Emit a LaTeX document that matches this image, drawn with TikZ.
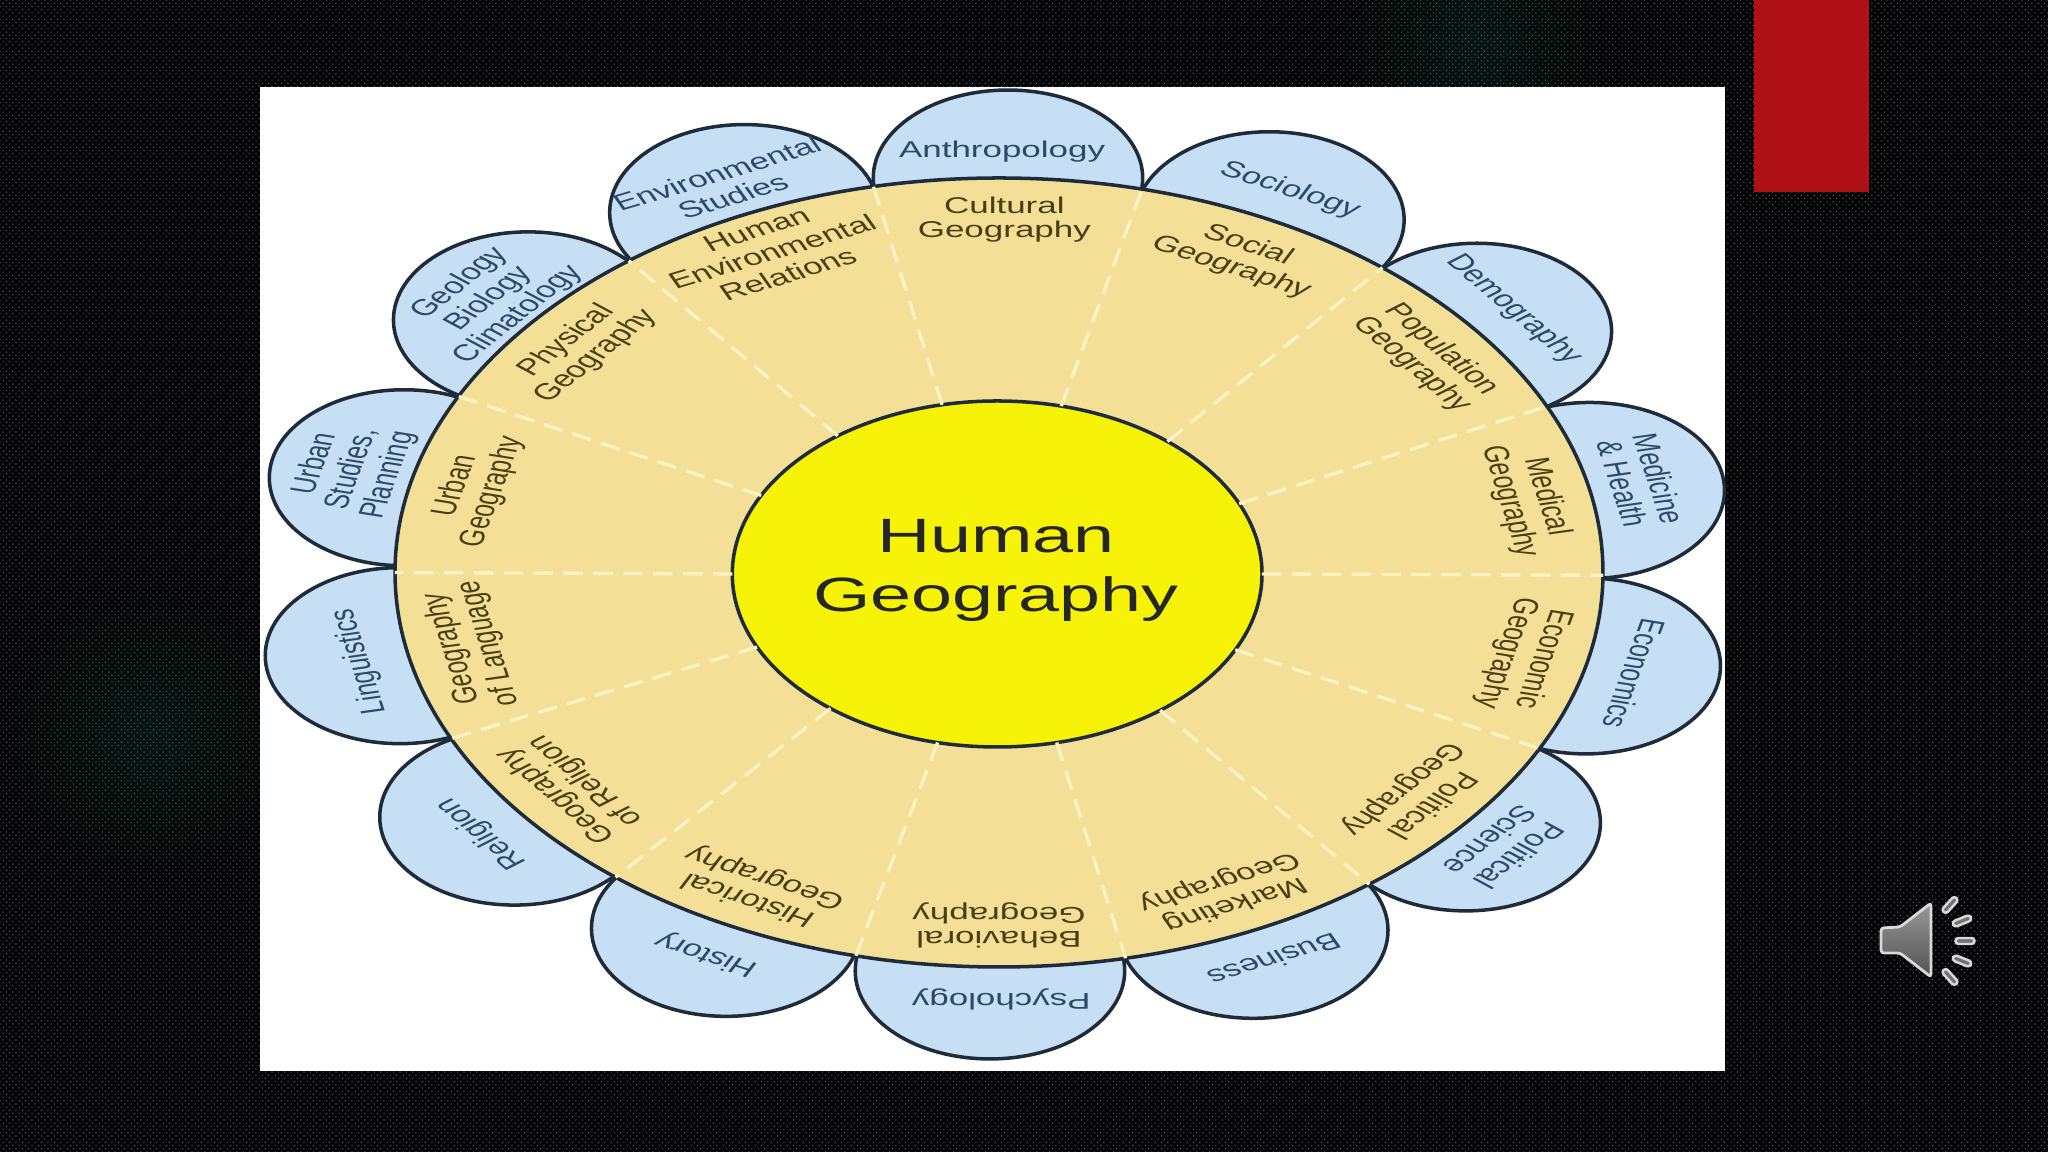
\documentclass[tikz,border=0pt]{standalone}
\usepackage{fontspec}
\setmainfont{Liberation Sans}
\usetikzlibrary{patterns.meta}

\definecolor{lineink}{HTML}{1E2B3A}
\definecolor{petalblue}{HTML}{C6DFF5}
\definecolor{wedgesand}{HTML}{F3DF96}
\definecolor{hubyellow}{HTML}{F6F208}
\definecolor{spokecream}{HTML}{FBF3C6}
\definecolor{petalink}{HTML}{2C4A68}
\definecolor{wedgeink}{HTML}{4D3D14}
\definecolor{slidebase}{HTML}{020405}
\definecolor{slideteal}{HTML}{051614}
\definecolor{slidedot}{HTML}{909090}
\definecolor{slidered}{HTML}{B01116}

\tikzset{
  petal/.style={draw=lineink, fill=petalblue, line width=1pt},
  disc/.style={circle, draw=lineink, fill=wedgesand, line width=1pt, inner sep=0, outer sep=0, minimum size=7.89cm, transform shape},
  hub/.style={circle, draw=lineink, fill=hubyellow, line width=1pt, inner sep=0, outer sep=0, minimum size=3.46cm, transform shape},
  hubtext/.style={transform shape, align=center, text=black!85, inner sep=0,
    font=\fontsize{13.7}{16.7}\selectfont},
  spoke/.style={draw=spokecream, line width=.95pt, dash pattern=on 5.5pt off 3pt},
  petallabel/.style 2 args={at={(#1:#2)}, rotate=#1-90, transform shape, align=center, text=petalink, inner sep=0,
    font=\fontsize{6.5}{7}\selectfont},
  wedgelabel/.style={at={(#1:3.53)}, rotate=#1-90, transform shape, align=center, text=wedgeink, inner sep=0,
    font=\fontsize{6.5}{7}\selectfont},
  soundbar/.style={draw=black!15, fill=black!55, line width=.7pt, rounded corners=.03cm, inner sep=0, minimum width=.19cm, minimum height=.06cm},
}

\begin{document}
\begin{tikzpicture}
  \useasboundingbox (0,0) rectangle (20.48,11.52);
  \clip (0,0) rectangle (20.48,11.52);
  % slide
  \fill[slidebase] (0,0) rectangle (20.48,11.52);
  \shade[inner color=slideteal, outer color=slidebase] (14.75,11.1) circle (1.3);
  \shade[inner color=slideteal, outer color=slidebase] (1.5,4.2) circle (1.4);
  \fill[pattern={Dots[distance=.064cm, radius=.0055cm]}, pattern color=slidedot] (0,0) rectangle (20.48,11.52);
  \fill[pattern={Dots[distance=.064cm, radius=.0055cm, xshift=.032cm, yshift=.032cm]}, pattern color=slidedot] (0,0) rectangle (20.48,11.52);
  \fill[white] (2.595,.81) rectangle (17.25,10.65);
  \fill[slidered] (17.54,9.60) rectangle (18.69,11.52);

  % the wheel is a circle stretched sideways
  \begin{scope}[shift={(9.99,5.795)}, xscale=1.531]
    \foreach \ang/\reach in {89.15/3.945,63.4/3.945,37.7/3.945,12/3.945,-13.7/3.945,-39.4/3.945,-65.1/3.945,
        -90.85/3.985,-116.6/3.98,-142.3/4.0,-168/4.0,166.3/4.0,140.6/3.98,114.8/3.965}
      \draw[petal] (\ang:\reach) circle (.88);

    \node[disc] (wheel) at (0,0) {};
    \node[hub] (centre) at (-.012,-.015) {};
    \node[hubtext] (title) at (-.02,.02) {Human\\Geography};

    \foreach \ang [count=\k] in {76.3,50.6,24.9,-.4,-26.5,-52.2,-77.9,-103.7,-129.4,-155.1,180,153.5,127.8,102}{
      \coordinate (rim\k) at (\ang:3.945);
      \draw[spoke] (centre.\ang) -- (rim\k);
    }

    \node[petallabel={90}{4.21}, xshift=.02cm] (anthro) {Anthropology};
    \node[petallabel={63.6}{4.27}] (socio) {Sociology};
    \node[petallabel={38}{4.27}] (demog) {Demography};
    \node[petallabel={12.3}{4.29}] (medic) {Medicine\\\& Health};
    \node[petallabel={-13.7}{4.27}] (econ) {Economics};
    \node[petallabel={-39.8}{4.3}] (polsci) {Political\\Science};
    \node[petallabel={-65.1}{4.27}] (busin) {Business};
    \node[petallabel={-90}{4.27}, xshift=-.015cm] (psych) {Psychology};
    \node[petallabel={-116.6}{4.27}] (hist) {History};
    \node[petallabel={-142.3}{4.27}] (relig) {Religion};
    \node[petallabel={-168}{4.27}] (lingu) {Linguistics};
    \node[petallabel={166.3}{4.35}] (urban) {Urban\\Studies,\\Planning};
    \node[petallabel={140.6}{4.31}] (geolo) {Geology\\Biology\\Climatology};
    \node[petallabel={114.8}{4.27}] (envir) {Environmental\\Studies};

    \node[wedgelabel=90, xshift=.035cm] (cult) {Cultural\\Geography};
    \node[wedgelabel=63.6] (soc) {Social\\Geography};
    \node[wedgelabel=37.7] (pop) {Population\\Geography};
    \node[wedgelabel=12] (med) {Medical\\Geography};
    \node[wedgelabel=-13.7] (eco) {Economic\\Geography};
    \node[wedgelabel=-39.4] (pol) {Political\\Geography};
    \node[wedgelabel=-65.1] (mark) {Marketing\\Geography};
    \node[wedgelabel=-90] (beh) {Behavioral\\Geography};
    \node[wedgelabel=-116.6] (his) {Historical\\Geography};
    \node[wedgelabel=-142.3] (rel) {Geography\\of Religion};
    \node[wedgelabel=-168] (lang) {Geography\\of Language};
    \node[wedgelabel=166.3] (urb) {Urban\\Geography};
    \node[wedgelabel=140.6] (phys) {Physical\\Geography};
    \node[wedgelabel=114.8] (hum) {Human\\Environmental\\Relations};
  \end{scope}

  % speaker icon
  \draw[draw=black!15, line width=.8pt, rounded corners=.03cm, top color=black!40, bottom color=black!68]
    (18.81,2.24) -- (19.00,2.25) -- (19.31,2.49) -- (19.31,1.75) -- (19.00,1.99) -- (18.81,1.99) -- cycle;
  \node[soundbar, rotate=48] (bar1) at (19.50,2.47) {};
  \node[soundbar, rotate=22] (bar2) at (19.62,2.31) {};
  \node[soundbar, rotate=0] (bar3) at (19.65,2.11) {};
  \node[soundbar, rotate=-22] (bar4) at (19.62,1.91) {};
  \node[soundbar, rotate=-48] (bar5) at (19.50,1.75) {};
\end{tikzpicture}
\end{document}
